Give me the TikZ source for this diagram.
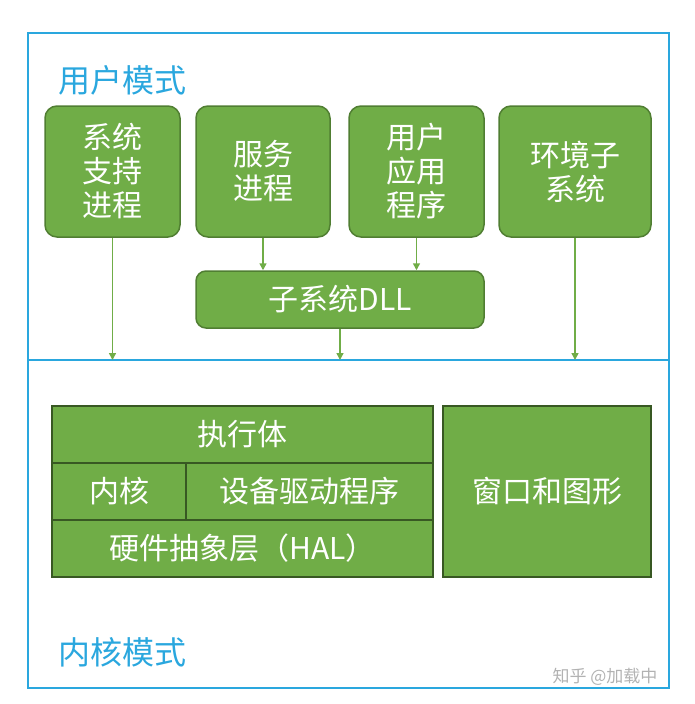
\documentclass[tikz,border=0pt]{standalone}
\usepackage{fontspec}
\setmainfont{Noto Sans CJK SC}
\usetikzlibrary{arrows.meta}
\definecolor{gfill}{HTML}{70AD47}
\definecolor{gdark}{HTML}{507E32}
\definecolor{lblue}{HTML}{2AA7DE}
\tikzset{
 ubox/.style={draw=gdark,line width=1.5pt,fill=gfill,rounded corners=12pt,text=white,align=center,font=\fontsize{30}{34}\selectfont},
 kbox/.style={draw=gdark!70!black,line width=1.5pt,fill=gfill,text=white,align=center,font=\fontsize{30}{34}\selectfont},
 arr/.style={draw=gfill,line width=1.5pt,-{Triangle[length=7pt,width=7pt]}},
 mode/.style={text=lblue,font=\fontsize{32}{36}\selectfont,anchor=west}
}
\begin{document}
\begin{tikzpicture}[x=1pt,y=-1pt]
\useasboundingbox (0,0) rectangle (695,704);
\draw[lblue,line width=1.5pt] (28,33) rectangle (669,688);
\draw[lblue,line width=1.5pt] (28,360) coordinate (dl) -- (669,360);
\node[mode] (um) at (55,80) {用户模式};
\node[mode] (km) at (55,652) {内核模式};
\node[ubox,minimum width=135pt,minimum height=131pt] (b1) at (112.5,171.5) {系统\\支持\\进程};
\node[ubox,minimum width=134pt,minimum height=131pt] (b2) at (263,171.5) {服务\\进程};
\node[ubox,minimum width=135pt,minimum height=131pt] (b3) at (416.5,171.5) {用户\\应用\\程序};
\node[ubox,minimum width=152pt,minimum height=131pt] (b4) at (575,171.5) {环境子\\系统};
\node[ubox,minimum width=288pt,minimum height=57pt,rounded corners=10pt] (dll) at (340,299.5) {子系统DLL};
\coordinate (e1) at (112.5,360);
\coordinate (e2) at (340,360);
\coordinate (e4) at (575,360);
\draw[arr] (b1.south) -- (e1);
\draw[arr] (b2.south) -- (dll.north -| b2.south);
\draw[arr] (b3.south) -- (dll.north -| b3.south);
\draw[arr] (dll.south) -- (e2);
\draw[arr] (b4.south) -- (e4);
\node[kbox,minimum width=381pt,minimum height=57pt] (exe) at (242.5,434.5) {执行体};
\node[kbox,minimum width=134pt,minimum height=57pt] (ker) at (119,491.5) {内核};
\node[kbox,minimum width=247pt,minimum height=57pt] (drv) at (309.5,491.5) {设备驱动程序};
\node[kbox,minimum width=381pt,minimum height=57pt] (hal) at (242.5,548.5) {硬件抽象层（HAL）};
\node[kbox,minimum width=208pt,minimum height=171pt] (win) at (547,491.5) {窗口和图形};
\node[text=gray!60,font=\fontsize{17}{20}\selectfont] (wm) at (605,677) {知乎 @加载中};
\end{tikzpicture}
\end{document}
